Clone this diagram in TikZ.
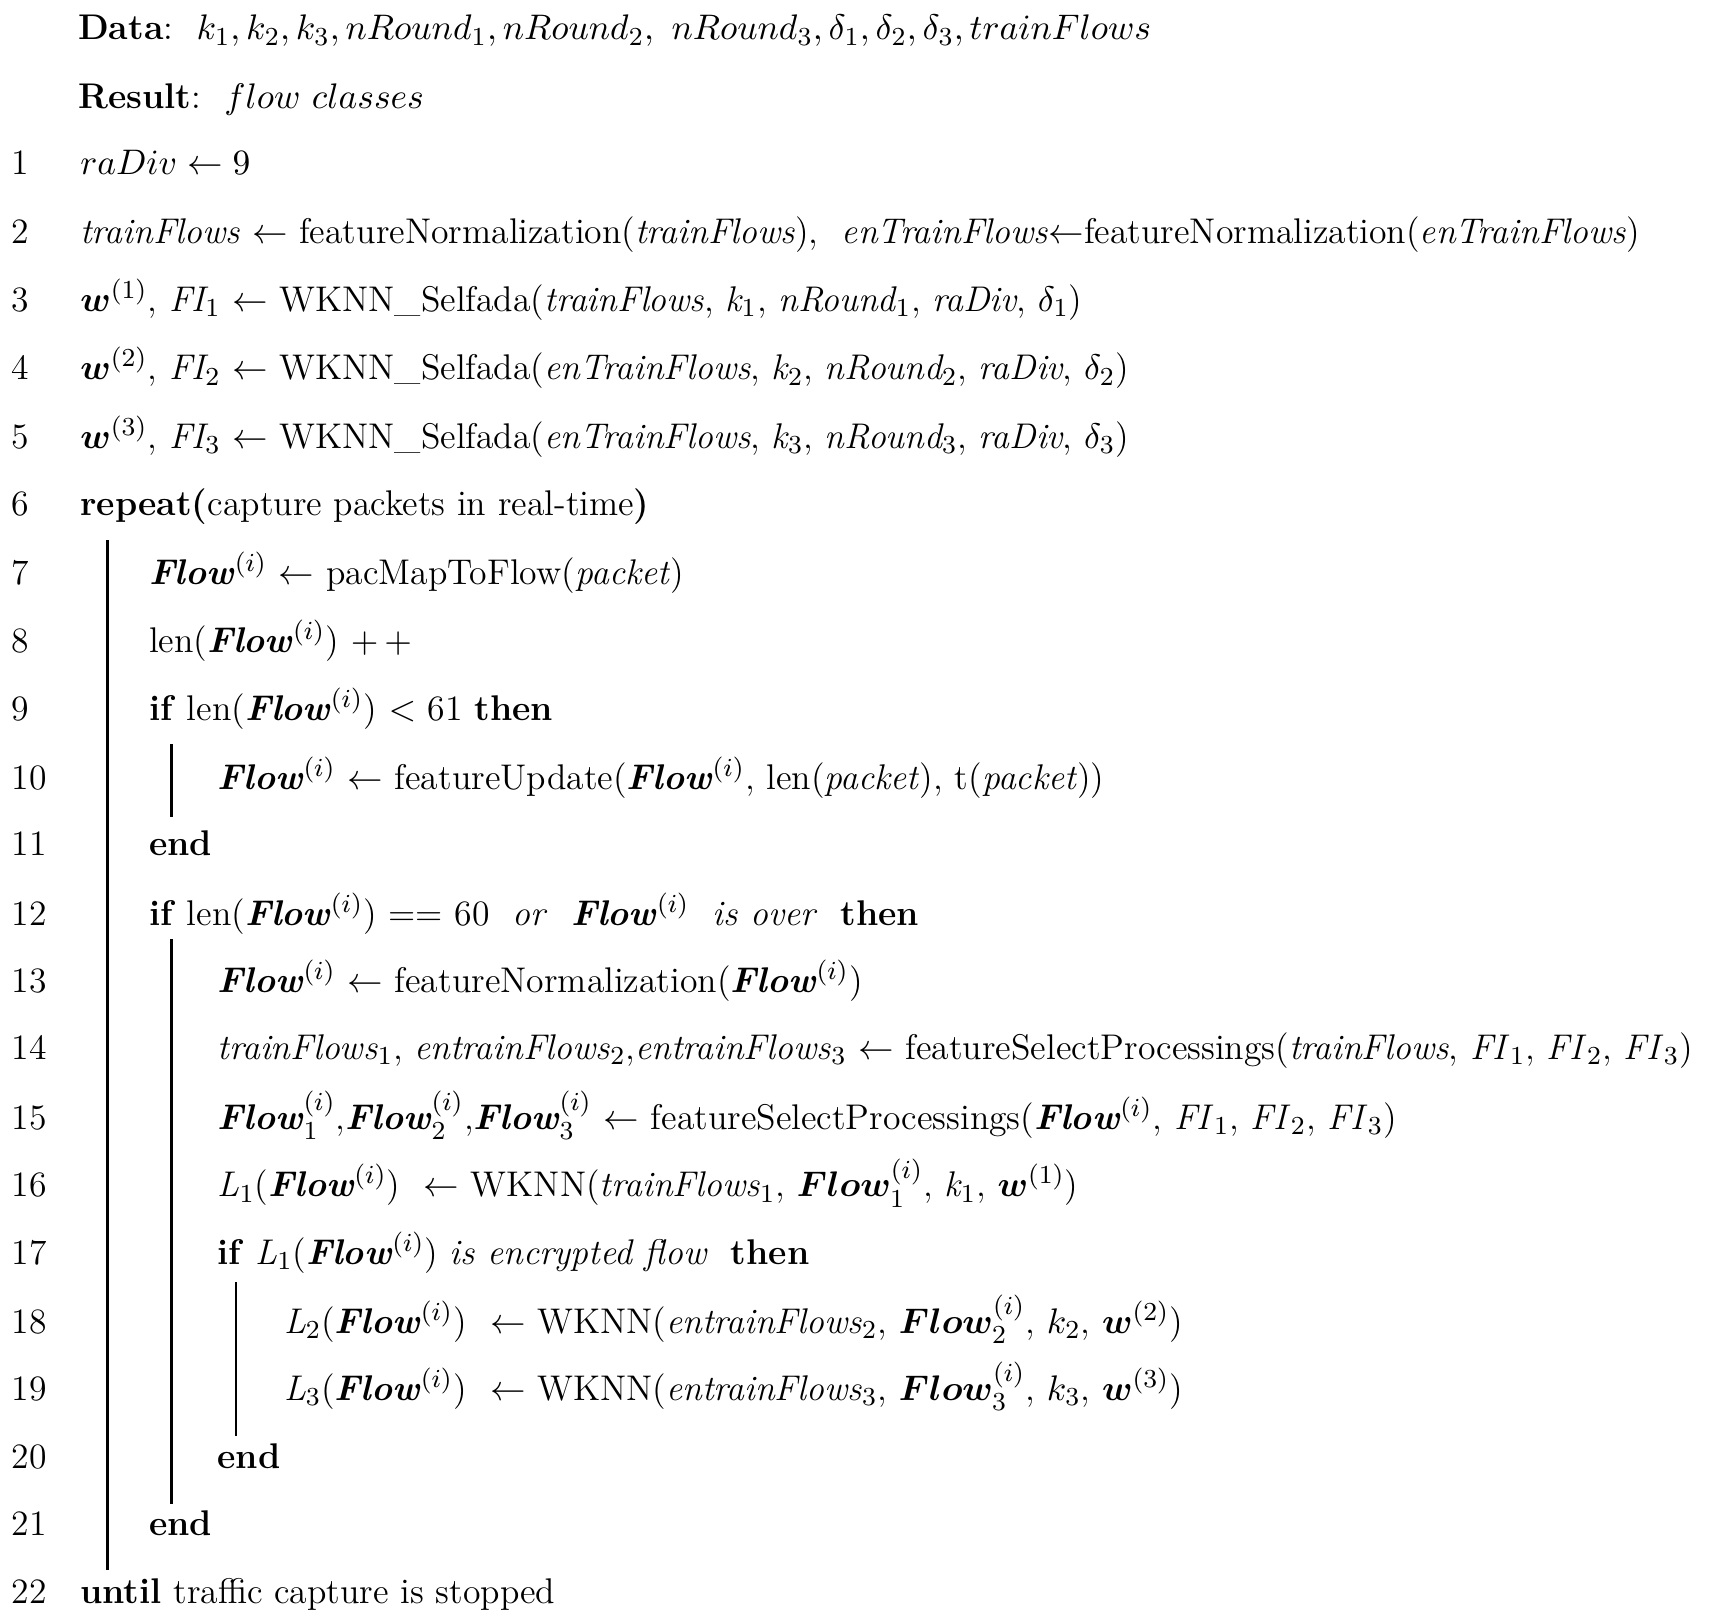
\documentclass[tikz,border=0pt]{standalone}
\usepackage{amsmath,bm}
\begin{document}
\begin{tikzpicture}[x=0.012cm,y=-0.012cm,
  tx/.style={anchor=base west,inner sep=0pt,font=\fontsize{11}{13}\selectfont},
  bar/.style={line width=0.7pt}]
\newcommand\F{\textbf{\textit{Flow}}}
\newcommand\Fi{\F$^{(i)}$}
\useasboundingbox (0,0) rectangle (1568,1465);
\node[tx] (data) at (70,36) {\textbf{Data}:\ \ $k_1, k_2, k_3, nRound_1, nRound_2,\ nRound_3, \delta_1, \delta_2, \delta_3, trainFlows$};
\node[tx] (res) at (70,98) {\textbf{Result}:\ \ $flow\ classes$};
\foreach \n/\y in {1/158,2/220,3/281,4/343,5/405,6/466,7/528,8/589,9/651,10/713,11/773,12/836,13/896,14/957,15/1020,16/1081,17/1142,18/1204,19/1265,20/1326,21/1387,22/1448}
  \node[tx] (n\n) at (10,\y) {\n};
\node[tx] (l1) at (72,158) {$raDiv \leftarrow 9$};
\node[tx] (l2) at (72,220) {\textit{trainFlows} $\leftarrow$ featureNormalization(\textit{trainFlows}),\ \ \textit{enTrainFlows}$\leftarrow$featureNormalization(\textit{enTrainFlows})};
\node[tx] (l3) at (72,281) {$\bm{w}^{(1)}$, \textit{FI$_1$} $\leftarrow$ WKNN\_Selfada(\textit{trainFlows}, \textit{k$_1$}, \textit{nRound$_1$}, \textit{raDiv}, $\delta_1$)};
\node[tx] (l4) at (72,343) {$\bm{w}^{(2)}$, \textit{FI$_2$} $\leftarrow$ WKNN\_Selfada(\textit{enTrainFlows}, \textit{k$_2$}, \textit{nRound$_2$}, \textit{raDiv}, $\delta_2$)};
\node[tx] (l5) at (72,405) {$\bm{w}^{(3)}$, \textit{FI$_3$} $\leftarrow$ WKNN\_Selfada(\textit{enTrainFlows}, \textit{k$_3$}, \textit{nRound$_3$}, \textit{raDiv}, $\delta_3$)};
\node[tx] (l6) at (72,466) {\textbf{repeat(}capture packets in real-time\textbf{)}};
\node[tx] (l7) at (134,528) {\Fi{} $\leftarrow$ pacMapToFlow(\textit{packet})};
\node[tx] (l8) at (134,589) {len(\Fi) $+\,+$};
\node[tx] (l9) at (134,651) {\textbf{if}\ len(\Fi)\ $<$\ 61 \textbf{then}};
\node[tx] (l10) at (196,713) {\Fi{} $\leftarrow$ featureUpdate(\Fi, len(\textit{packet}), t(\textit{packet}))};
\node[tx] (l11) at (134,773) {\textbf{end}};
\node[tx] (l12) at (134,836) {\textbf{if}\ len(\Fi) == 60\ \ \textit{or}\ \ \Fi\ \ \textit{is over}\ \ \textbf{then}};
\node[tx] (l13) at (196,896) {\Fi{} $\leftarrow$ featureNormalization(\Fi)};
\node[tx] (l14) at (196,957) {\textit{trainFlows}$_1$, \textit{entrainFlows}$_2$,\textit{entrainFlows}$_3$ $\leftarrow$ featureSelectProcessings(\textit{trainFlows}, \textit{FI}$_1$, \textit{FI}$_2$, \textit{FI}$_3$)};
\node[tx] (l15) at (196,1020) {\F$^{(i)}_1$,\F$^{(i)}_2$,\F$^{(i)}_3$ $\leftarrow$ featureSelectProcessings(\Fi, \textit{FI}$_1$, \textit{FI}$_2$, \textit{FI}$_3$)};
\node[tx] (l16) at (196,1081) {\textit{L$_1$}(\Fi)\ \ $\leftarrow$ WKNN(\textit{trainFlows}$_1$, $\bm{Flow}^{(i)}_1$, \textit{k$_1$}, $\bm{w}^{(1)}$)};
\node[tx] (l17) at (196,1142) {\textbf{if} \textit{L$_1$}(\Fi) \textit{is encrypted flow}\ \ \textbf{then}};
\node[tx] (l18) at (256,1204) {\textit{L$_2$}(\Fi)\ \ $\leftarrow$ WKNN(\textit{entrainFlows}$_2$, $\bm{Flow}^{(i)}_2$, $k_2$, $\bm{w}^{(2)}$)};
\node[tx] (l19) at (256,1265) {\textit{L$_3$}(\Fi)\ \ $\leftarrow$ WKNN(\textit{entrainFlows}$_3$, $\bm{Flow}^{(i)}_3$, $k_3$, $\bm{w}^{(3)}$)};
\node[tx] (l20) at (196,1326) {\textbf{end}};
\node[tx] (l21) at (134,1387) {\textbf{end}};
\node[tx] (l22) at (72,1448) {\textbf{until} traffic capture is stopped};
\coordinate (a1) at (97,488); \coordinate (a2) at (97,1418);
\coordinate (b1) at (155,672); \coordinate (b2) at (155,738);
\coordinate (c1) at (155,848); \coordinate (c2) at (155,1358);
\coordinate (d1) at (213,1158); \coordinate (d2) at (213,1297);
\draw[bar] (a1) -- (a2);
\draw[bar] (b1) -- (b2);
\draw[bar] (c1) -- (c2);
\draw[bar] (d1) -- (d2);
\end{tikzpicture}
\end{document}
